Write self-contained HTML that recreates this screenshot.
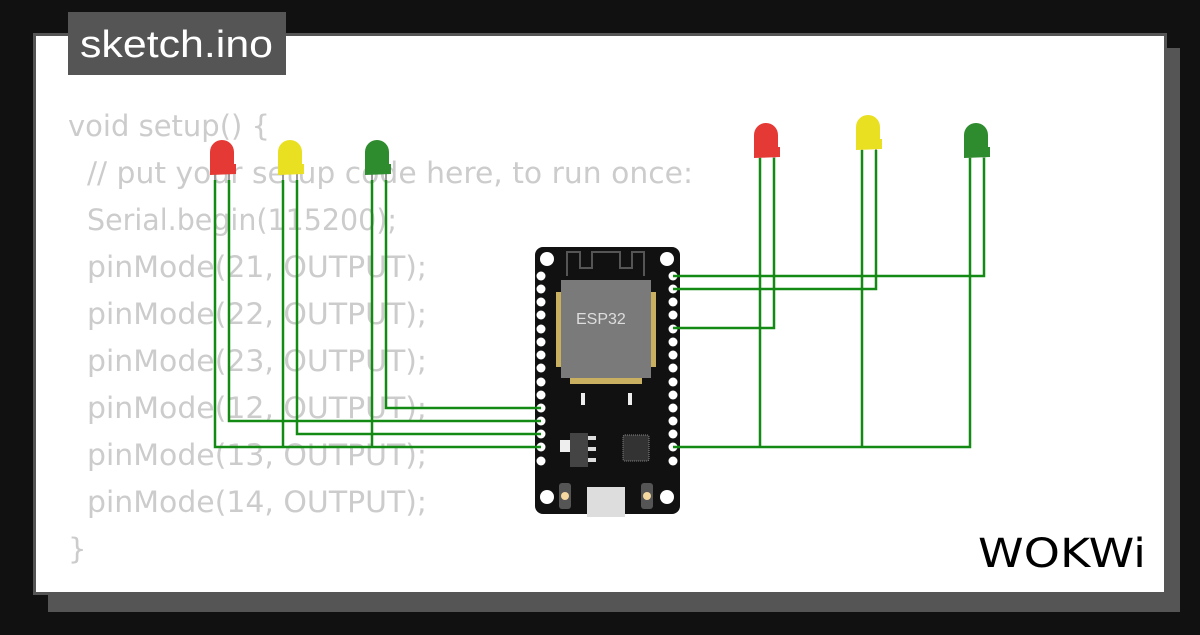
<!DOCTYPE html>
<html><head><style>
body{margin:0;width:1200px;height:630px;background:#111;overflow:hidden}
</style></head><body>
<svg width="1200" height="630" xmlns="http://www.w3.org/2000/svg">
<rect x="48" y="48" width="1132" height="564" fill="#555"/>
<rect x="33" y="33" width="1134" height="562" fill="#555"/>
<rect x="36" y="36" width="1128" height="556" fill="#fff"/>
<rect x="68" y="12" width="218" height="63" fill="#555"/>
<text x="80" y="57" font-family="Liberation Sans, sans-serif" font-size="38" fill="#fff" textLength="193" lengthAdjust="spacingAndGlyphs">sketch.ino</text>
<g font-family="DejaVu Sans, sans-serif" font-size="29" fill="#ccc" lengthAdjust="spacingAndGlyphs">
<text x="68" y="136" textLength="202" lengthAdjust="spacingAndGlyphs">void setup() {</text>
<text x="87" y="183" textLength="606" lengthAdjust="spacingAndGlyphs">// put your setup code here, to run once:</text>
<text x="87" y="230" textLength="310" lengthAdjust="spacingAndGlyphs">Serial.begin(115200);</text>
<text x="87" y="277" textLength="340" lengthAdjust="spacingAndGlyphs">pinMode(21, OUTPUT);</text>
<text x="87" y="324" textLength="340" lengthAdjust="spacingAndGlyphs">pinMode(22, OUTPUT);</text>
<text x="87" y="371" textLength="340" lengthAdjust="spacingAndGlyphs">pinMode(23, OUTPUT);</text>
<text x="87" y="418" textLength="340" lengthAdjust="spacingAndGlyphs">pinMode(12, OUTPUT);</text>
<text x="87" y="465" textLength="340" lengthAdjust="spacingAndGlyphs">pinMode(13, OUTPUT);</text>
<text x="87" y="512" textLength="340" lengthAdjust="spacingAndGlyphs">pinMode(14, OUTPUT);</text>
<text x="68" y="559">}</text>
</g>
<!-- board -->
<rect x="535" y="247" width="145" height="267" rx="8" fill="#111"/>
<path d="M567 276 V252 H580 V268 H592 V252 H620 V268 H632 V252 H644 V276" fill="none" stroke="#555" stroke-width="2"/>
<rect x="561" y="280" width="90" height="98" fill="#7a7a7a"/>
<g fill="#c8b060">
<rect x="556" y="292" width="5" height="75"/><rect x="651" y="292" width="5" height="75"/>
<rect x="570" y="378" width="72" height="6"/>
</g>
<text x="576" y="324" font-family="Liberation Sans, sans-serif" font-size="16" fill="#ddd">ESP32</text>
<rect x="581" y="393" width="4" height="12" fill="#eee"/><rect x="628" y="393" width="4" height="12" fill="#eee"/>
<rect x="570" y="433" width="18" height="34" fill="#444"/><rect x="560" y="440" width="10" height="12" fill="#eee"/>
<rect x="588" y="436" width="8" height="4" fill="#ddd"/><rect x="588" y="447" width="8" height="4" fill="#ddd"/><rect x="588" y="458" width="8" height="4" fill="#ddd"/>
<rect x="623" y="435" width="26" height="26" rx="2" fill="#333" stroke="#888" stroke-dasharray="1,1"/>
<circle cx="547" cy="259" r="7" fill="#fff"/><circle cx="667" cy="259" r="7" fill="#fff"/>
<circle cx="547" cy="497" r="7" fill="#fff"/><circle cx="667" cy="497" r="7" fill="#fff"/>
<rect x="559" y="483" width="12" height="26" rx="3" fill="#555"/><circle cx="565" cy="496" r="4" fill="#f5d7a0"/>
<rect x="641" y="483" width="12" height="26" rx="3" fill="#555"/><circle cx="647" cy="496" r="4" fill="#f5d7a0"/>
<rect x="587" y="487" width="38" height="30" fill="#ddd"/>
<g fill="#fff">
<circle cx="541" cy="276" r="4.5"/><circle cx="541" cy="289" r="4.5"/><circle cx="541" cy="302" r="4.5"/><circle cx="541" cy="315" r="4.5"/><circle cx="541" cy="329" r="4.5"/><circle cx="541" cy="342" r="4.5"/><circle cx="541" cy="355" r="4.5"/><circle cx="541" cy="368" r="4.5"/><circle cx="541" cy="382" r="4.5"/><circle cx="541" cy="395" r="4.5"/><circle cx="541" cy="408" r="4.5"/><circle cx="541" cy="421" r="4.5"/><circle cx="541" cy="434" r="4.5"/><circle cx="541" cy="447" r="4.5"/><circle cx="541" cy="461" r="4.5"/>
<circle cx="673" cy="276" r="4.5"/><circle cx="673" cy="289" r="4.5"/><circle cx="673" cy="302" r="4.5"/><circle cx="673" cy="315" r="4.5"/><circle cx="673" cy="329" r="4.5"/><circle cx="673" cy="342" r="4.5"/><circle cx="673" cy="355" r="4.5"/><circle cx="673" cy="368" r="4.5"/><circle cx="673" cy="382" r="4.5"/><circle cx="673" cy="395" r="4.5"/><circle cx="673" cy="408" r="4.5"/><circle cx="673" cy="421" r="4.5"/><circle cx="673" cy="434" r="4.5"/><circle cx="673" cy="447" r="4.5"/><circle cx="673" cy="461" r="4.5"/>
</g>
<!-- wires -->
<g fill="none" stroke="#138a13" stroke-width="2.5">
<path d="M215 180 V447 H541"/><path d="M229 180 V421 H541"/>
<path d="M283 180 V447"/><path d="M297 180 V434 H541"/>
<path d="M372 180 V447"/><path d="M386 180 V408 H541"/>
<path d="M760 156 V447"/><path d="M774 156 V328 H673"/>
<path d="M862 150 V447"/><path d="M876 150 V289 H673"/>
<path d="M970 156 V447 H673"/><path d="M984 156 V276 H673"/>
</g>
<!-- LEDs -->
<g stroke="#999" stroke-width="2" fill="none">
<path d="M215 180 V170"/><path d="M229 180 V172 L224 167"/>
<path d="M283 180 V170"/><path d="M297 180 V172 L292 167"/>
<path d="M372 180 V170"/><path d="M386 180 V172 L381 167"/>
<path d="M760 158 V150"/><path d="M774 158 V152 L769 147"/>
<path d="M862 150 V143"/><path d="M876 150 V145 L871 140"/>
<path d="M970 158 V150"/><path d="M984 158 V152 L979 147"/>
</g>
<g>
<path d="M210 185 V162 a12 12 0 0 1 24 0 V174 h2 v10 z" fill="#e53935" transform="translate(0,-10)"/>
<path d="M278 185 V162 a12 12 0 0 1 24 0 V174 h2 v10 z" fill="#e8e020" transform="translate(0,-10)"/>
<path d="M365 185 V162 a12 12 0 0 1 24 0 V174 h2 v10 z" fill="#2e8b2e" transform="translate(0,-10)"/>
<path d="M754 163 V140 a12 12 0 0 1 24 0 V152 h2 v10 z" fill="#e53935" transform="translate(0,-5)"/>
<path d="M856 155 V132 a12 12 0 0 1 24 0 V144 h2 v10 z" fill="#e8e020" transform="translate(0,-5)"/>
<path d="M964 163 V140 a12 12 0 0 1 24 0 V152 h2 v10 z" fill="#2e8b2e" transform="translate(0,-5)"/>
</g>
<text x="978" y="567" font-family="DejaVu Sans, sans-serif" font-size="40" fill="#000" textLength="168" lengthAdjust="spacingAndGlyphs">WOKWi</text>
</svg>
</body></html>
